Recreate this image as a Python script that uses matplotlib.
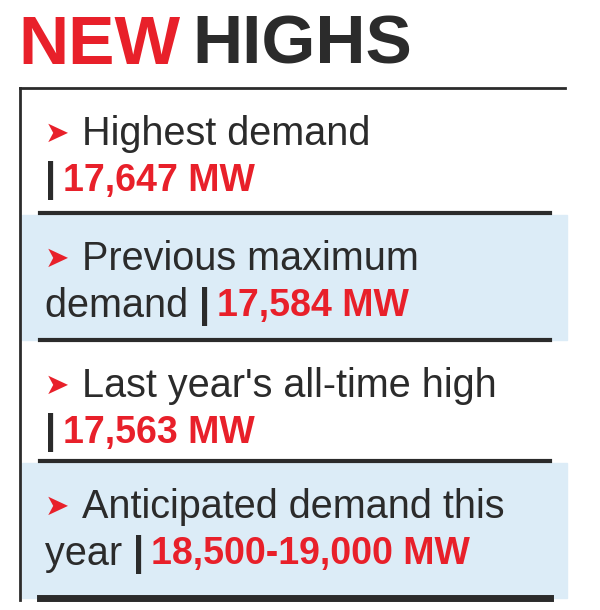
import matplotlib.pyplot as plt
from matplotlib.patches import Rectangle

# content
labels_line1 = ["Highest demand", "Previous maximum", "Last year's all-time high", "Anticipated demand this"]
labels_line2 = ["", "demand ", "", "year "]
values = ["17,647 MW", "17,584 MW", "17,563 MW", "18,500-19,000 MW"]
row_top = [90, 215, 342, 463]
row_bottom = [213, 340, 461, 598]
shaded = [False, True, False, True]

red = "#e8202a"
dark = "#2b2b2b"
blue = "#dcecf7"

fig = plt.figure(figsize=(6, 6.1), dpi=100)
ax = fig.add_axes([0, 0, 1, 1])
ax.set_xlim(0, 600)
ax.set_ylim(610, 0)
ax.axis("off")

def right(t):
    fig.canvas.draw()
    return t.get_window_extent().transformed(ax.transData.inverted()).x1

# title
t = ax.text(18, 46, "NEW", color=red, fontsize=50, fontweight="bold",
            family="Liberation Sans", va="center", ha="left")
ax.text(right(t) + 12, 46, "HIGHS", color=dark, fontsize=50, fontweight="bold",
        family="Liberation Sans", va="center", ha="left")

# frame
ax.plot([20, 565], [88, 88], color=dark, lw=2)
ax.plot([20, 20], [88, 600], color=dark, lw=2)

fs = 28.5
for i in range(len(values)):
    if shaded[i]:
        ax.add_patch(Rectangle((22, row_top[i]), 545, row_bottom[i] - row_top[i],
                               color=blue, zorder=0))
    ax.plot([40, 550], [row_bottom[i], row_bottom[i]], color=dark, lw=3 if i < 3 else 5)
    y1 = row_top[i] + 44
    y2 = row_top[i] + 91
    ax.text(45, y1, "➤", color=red, fontsize=21, fontweight="bold", family="DejaVu Sans", va="center")
    ax.text(82, y1, labels_line1[i], color=dark, fontsize=fs, family="Liberation Sans", va="center")
    x = 45
    if labels_line2[i]:
        tt = ax.text(x, y2, labels_line2[i], color=dark, fontsize=fs, family="Liberation Sans", va="center")
        x = right(tt)
    tb = ax.text(x, y2, "| ", color=dark, fontsize=fs, fontweight="bold", family="Liberation Sans", va="center")
    x = right(tb)
    ax.text(x - 4, y2, values[i], color=red, fontsize=27, fontweight="bold",
            family="Liberation Sans", va="center")

fig.savefig("out.png", dpi=100)
